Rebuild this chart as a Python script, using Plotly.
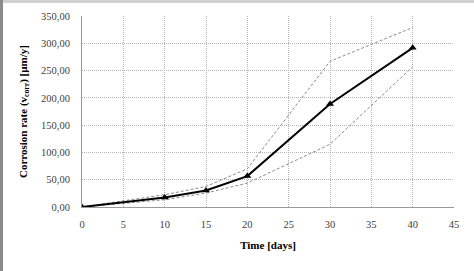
import plotly.graph_objects as go

days = [0, 10, 15, 20, 30, 40]
rate_mean = [0.0, 17.5, 30.3, 56.6, 188.7, 291.6]
rate_upper = [0.0, 22.5, 37.6, 70.0, 267.0, 328.8]
rate_lower = [0.0, 13.3, 25.5, 43.8, 115.0, 257.0]

W, H = 474, 271
ml, mr, mt, mb = 82, 20, 16, 64

fig = go.Figure()
for ys in (rate_upper, rate_lower):
    fig.add_trace(go.Scatter(x=days, y=ys, mode="lines",
                             line=dict(color="#8c8c8c", width=1, dash="3px,2px"),
                             hoverinfo="skip", showlegend=False))
fig.add_trace(go.Scatter(x=days, y=rate_mean, mode="lines+markers",
                         line=dict(color="black", width=2),
                         marker=dict(symbol="triangle-up", size=7, color="black"),
                         showlegend=False))

font = "Liberation Serif, DejaVu Serif, serif"
fig.update_layout(
    width=W, height=H,
    margin=dict(l=ml, r=mr, t=mt, b=mb),
    paper_bgcolor="white", plot_bgcolor="white",
    separators=",.",
    font=dict(family=font, size=10, color="#404040"),
    xaxis=dict(range=[0, 45], tickvals=list(range(0, 50, 5)), showgrid=True,
               gridcolor="#b4b4b4", griddash="1px,1px", gridwidth=1,
               showline=True, linecolor="#9a9a9a", linewidth=1,
               zeroline=False, ticks="outside", ticklen=7, tickcolor="rgba(0,0,0,0)",
               tickfont=dict(family=font, size=10.5, color="#404040"),
               title=dict(text="<b>Time [days]</b>", standoff=12,
                          font=dict(family=font, size=11, color="black"))),
    yaxis=dict(range=[0, 350], tickvals=list(range(0, 400, 50)), tickformat=".2f",
               showgrid=True, gridcolor="#b4b4b4", griddash="1px,1px", gridwidth=1,
               showline=True, linecolor="#9a9a9a", linewidth=1,
               zeroline=False, ticks="outside", ticklen=9, tickcolor="rgba(0,0,0,0)",
               tickfont=dict(family=font, size=10.5, color="#404040"),
               title=dict(text="<b>Corrosion rate (v<sub>corr</sub>) [µm/y]</b>", standoff=11,
                          font=dict(family=font, size=11, color="black"))),
)

pw = W - ml - mr
ph = H - mt - mb
def px_x(x):
    return (x - ml) / pw
def px_y(y):
    return (H - mb - y) / ph
# outer frame fragments (top and left strips)
fig.add_shape(type="rect", xref="paper", yref="paper",
              x0=px_x(0), x1=px_x(W), y0=px_y(3), y1=px_y(0),
              fillcolor="#d0d0d0", line=dict(width=0), layer="above")
fig.add_shape(type="rect", xref="paper", yref="paper",
              x0=px_x(0), x1=px_x(3), y0=px_y(H), y1=px_y(0),
              fillcolor="#8a8a8a", line=dict(width=0), layer="above")

fig.write_html("out.html")
